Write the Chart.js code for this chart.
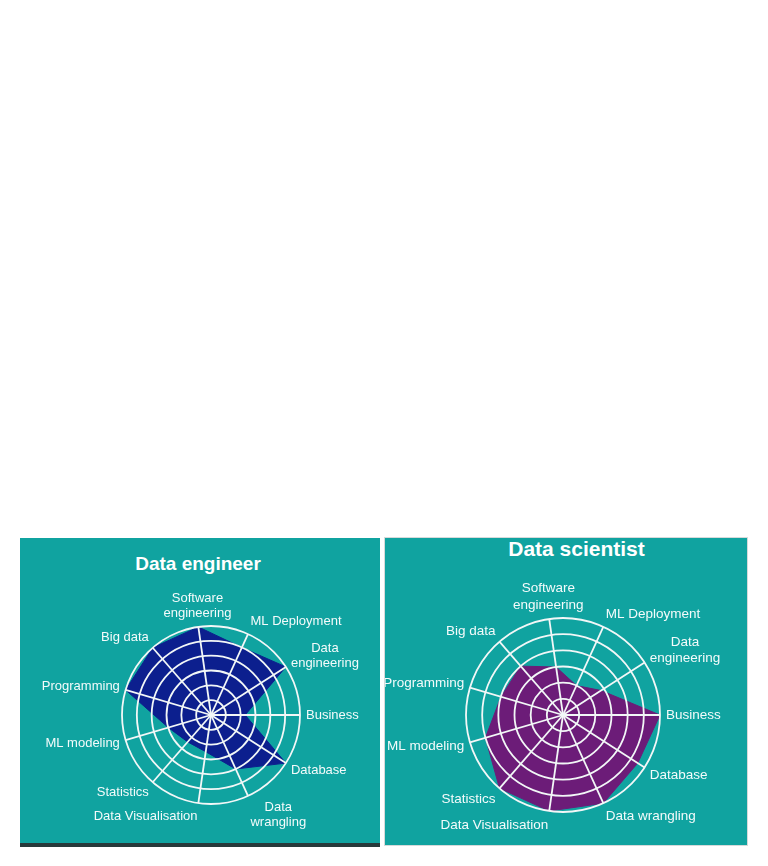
<!DOCTYPE html>
<html>
<head>
<meta charset="utf-8">
<script src="https://cdn.jsdelivr.net/npm/chart.js@4.4.1/dist/chart.umd.min.js"></script>
<style>
  html, body { margin: 0; padding: 0; background: #ffffff; }
  body { width: 768px; height: 866px; position: relative; overflow: hidden; font-family: "Liberation Sans", Arial, sans-serif; }
  .panel { position: absolute; background: #10a3a0; }
  .panel canvas { position: absolute; left: 0; top: 0; }
  .title { position: absolute; left: 0; right: 0; color: #ffffff; font-weight: bold; text-align: center; white-space: nowrap; }
  #panel-eng { left: 20px; top: 538px; width: 360px; height: 305px; border-bottom: 4px solid #27393a; }
  #panel-sci { left: 385px; top: 538px; width: 362px; height: 307px; box-shadow: 0 0 0 1px #d6dada; }
  #panel-eng .title { top: 15px; font-size: 19px; margin-left: -4px; }
  #panel-sci .title { top: -1px; font-size: 21px; margin-left: 21px; }
</style>
</head>
<body>
<div class="panel" id="panel-eng">
  <div class="title">Data engineer</div>
  <canvas id="chart-eng" width="360" height="305"></canvas>
</div>
<div class="panel" id="panel-sci">
  <div class="title">Data scientist</div>
  <canvas id="chart-sci" width="362" height="307"></canvas>
</div>
<script>
/* ===== skill radar: data engineer vs data scientist ===== */

// axes, clockwise from the top (software engineering sits just left of 12 o'clock)
const engineerLabels = [["Software", "engineering"], "ML Deployment", ["Data", "engineering"], "Business",
  "Database", ["Data", "wrangling"], "Data Visualisation", "Statistics", "ML modeling", "Programming", "Big data"];
const scientistLabels = [["Software", "engineering"], "ML Deployment", ["Data", "engineering"], "Business",
  "Database", "Data wrangling", "Data Visualisation", "Statistics", "ML modeling", "Programming", "Big data"];

// scores on a 0-6 ring scale
const engineerScores = [6, 5, 6, 2.3, 6, 4, 2.5, 2.4, 3, 6, 6];
const scientistScores = [3, 2, 2.8, 6, 5.5, 6, 6, 6, 5, 4, 4];

const ringMax = 6;
const ringStep = 1;

/* =========================================
   LABEL PLUGIN (point labels laid out like the slide)
   ========================================= */
const skillLabels = {
  id: "skillLabels",
  afterDraw(chart, args, opts) {
    const scale = chart.scales.r;
    const ctx = chart.ctx;
    ctx.save();
    ctx.font = `${opts.size}px "Liberation Sans", Arial, sans-serif`;
    ctx.fillStyle = opts.color;
    ctx.textAlign = "center";
    ctx.textBaseline = "middle";
    chart.data.labels.forEach((label, i) => {
      const lines = [].concat(label);
      const p = scale.getPointPosition(i, scale.drawingArea + opts.padding);
      const dx = p.x - scale.xCenter;
      const dy = p.y - scale.yCenter;
      const d = Math.hypot(dx, dy);
      const cos = dx / d, sin = -dy / d;
      const w = Math.max(...lines.map(l => ctx.measureText(l).width));
      const h = lines.length * opts.lineHeight;
      let cx;
      if (sin > 0.97) cx = p.x;           // top label: centred over the spoke
      else if (cos > 0) cx = p.x + w / 2; // right side: starts at the spoke
      else cx = p.x - w / 2;              // left side: ends at the spoke
      const cy = p.y - (h / 2) * sin;
      lines.forEach((line, k) => {
        ctx.fillText(line, cx, cy - h / 2 + opts.lineHeight * (k + 0.5));
      });
    });
    ctx.restore();
  },
};

function makeRadar(canvasId, labels, scores, fillColor, padding, font) {
  return new Chart(document.getElementById(canvasId), {
    type: "radar",
    data: {
      labels: labels,
      datasets: [{
        data: scores,
        backgroundColor: fillColor,
        borderColor: fillColor,
        borderWidth: 1,
        pointRadius: 0,
        pointHoverRadius: 0,
        fill: true,
      }],
    },
    options: {
      responsive: false,
      animation: false,
      layout: { padding: padding },
      plugins: {
        legend: { display: false },
        tooltip: { enabled: false },
        skillLabels: { color: "#f4fbfb", size: font.size, lineHeight: font.lineHeight, padding: 6 },
      },
      scales: {
        r: {
          min: 0,
          max: ringMax,
          startAngle: 90 - 3 * 360 / labels.length, // Business points east
          ticks: { display: false, stepSize: ringStep },
          grid: { circular: true, color: "#f2f7f7", lineWidth: 1.8, z: 1 },
          angleLines: { color: "#f2f7f7", lineWidth: 1.8 },
          pointLabels: { display: false },
        },
      },
    },
    plugins: [skillLabels],
  });
}

makeRadar("chart-eng", engineerLabels, engineerScores, "#0c1f8e",
  { left: 102, right: 80, top: 88, bottom: 39 }, { size: 13, lineHeight: 15 });
makeRadar("chart-sci", scientistLabels, scientistScores, "#6c1c78",
  { left: 81, right: 87, top: 80, bottom: 33 }, { size: 13.5, lineHeight: 16.5 });
</script>
</body>
</html>
